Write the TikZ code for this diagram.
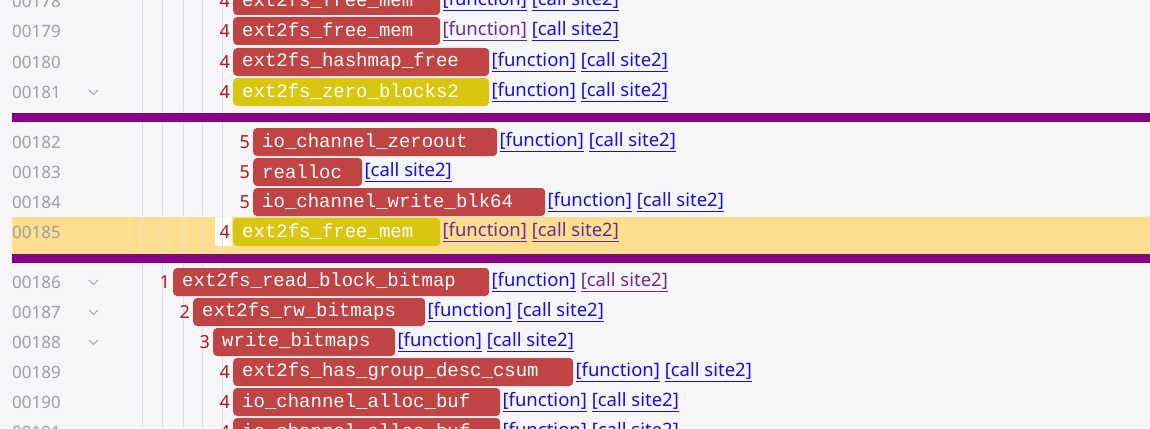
\documentclass[tikz,border=0pt]{standalone}
\usepackage{fontspec}
\setmainfont{Noto Sans}
\newfontfamily\monof{Liberation Mono}
\definecolor{bg}{HTML}{F6F6F9}
\definecolor{boxred}{HTML}{C04444}
\definecolor{boxyel}{HTML}{D9C610}
\definecolor{hl}{HTML}{FFDF8E}
\definecolor{bar}{HTML}{850085}
\definecolor{lnum}{HTML}{9AA0A6}
\definecolor{dnum}{HTML}{B01818}
\definecolor{lnk}{HTML}{1A0DDD}
\definecolor{vis}{HTML}{6A2A9A}
\definecolor{guide}{HTML}{D9DFEA}
\tikzset{
  fn/.style={fill=#1, rounded corners=4pt, inner sep=0pt, anchor=west, text=white, font=\monof\fontsize{19}{19}\selectfont},
  lvl/.style={anchor=east, text=dnum, font=\fontsize{18}{18}\selectfont, inner sep=0pt},
  ln/.style={anchor=west, text=lnum, font=\fontsize{17}{17}\selectfont, inner sep=0pt},
  lk/.style={anchor=west, font=\fontsize{18.5}{18.5}\selectfont, inner sep=0pt},
}
\newcommand{\lnk}[2]{\textcolor{#1}{\underline{#2}}}
\newcommand{\chev}[1]{\draw[lnum, line width=1pt] (89,#1-2) -- (93.5,#1+2.5) -- (98,#1-2);}
\begin{document}
\begin{tikzpicture}[x=1pt,y=-1pt]
\useasboundingbox (0,0) rectangle (1150,428);
\fill[bg] (0,0) rectangle (1150,428);
\fill[hl] (12,217) rectangle (1150,254);
\fill[white] (215,217) rectangle (232,246);
\foreach \x in {142,162,183,202,222} \draw[guide, line width=1pt] (\x,0) -- (\x,428);
\fill[bar] (12,113) rectangle (1150,122);
\fill[bar] (12,254) rectangle (1150,263);
\foreach \y/\l/\v/\bx/\bw/\c/\t/\k in {
 1/00178/4/233/207/boxred/ext2fs\_free\_mem/{\lnk{lnk}{[function]} \lnk{lnk}{[call site2]}},
 31/00179/4/233/207/boxred/ext2fs\_free\_mem/{\lnk{vis}{[function]} \lnk{lnk}{[call site2]}},
 62/00180/4/233/256/boxred/ext2fs\_hashmap\_free/{\lnk{lnk}{[function]} \lnk{lnk}{[call site2]}},
 92/00181/4/233/256/boxyel/ext2fs\_zero\_blocks2/{\lnk{lnk}{[function]} \lnk{lnk}{[call site2]}},
 142/00182/5/253/244/boxred/io\_channel\_zeroout/{\lnk{lnk}{[function]} \lnk{lnk}{[call site2]}},
 172/00183/5/253/109/boxred/realloc/{\lnk{lnk}{[call site2]}},
 202/00184/5/253/292/boxred/io\_channel\_write\_blk64/{\lnk{lnk}{[function]} \lnk{lnk}{[call site2]}},
 232/00185/4/233/207/boxyel/ext2fs\_free\_mem/{\lnk{vis}{[function]} \lnk{vis}{[call site2]}},
 282/00186/1/173/316/boxred/ext2fs\_read\_block\_bitmap/{\lnk{lnk}{[function]} \lnk{vis}{[call site2]}},
 312/00187/2/193/232/boxred/ext2fs\_rw\_bitmaps/{\lnk{lnk}{[function]} \lnk{lnk}{[call site2]}},
 342/00188/3/213/182/boxred/write\_bitmaps/{\lnk{lnk}{[function]} \lnk{lnk}{[call site2]}},
 372/00189/4/233/340/boxred/ext2fs\_has\_group\_desc\_csum/{\lnk{lnk}{[function]} \lnk{lnk}{[call site2]}},
 402/00190/4/233/267/boxred/io\_channel\_alloc\_buf/{\lnk{lnk}{[function]} \lnk{lnk}{[call site2]}},
 432/00191/4/233/267/boxred/io\_channel\_alloc\_buf/{\lnk{lnk}{[function]} \lnk{lnk}{[call site2]}}} {
  \node[ln] (n\l) at (12,\y) {\l};
  \node[lvl] (v\l) at (\bx-3,\y) {\v};
  \node[fn=\c, minimum height=28pt, minimum width=\bw pt, text width=\bw pt-18pt, align=left, inner xsep=9pt] (b\l) at (\bx,\y) {\t};
  \node[lk] (k\l) at ([xshift=2pt]b\l.east) {\k};
}
\chev{92} \chev{282} \chev{312} \chev{342}
\end{tikzpicture}
\end{document}
